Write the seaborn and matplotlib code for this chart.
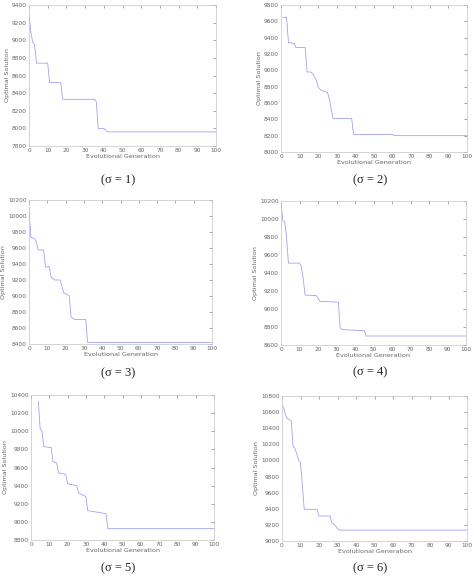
import matplotlib
matplotlib.use("Agg")
import matplotlib.pyplot as plt
import seaborn as sns
import numpy as np
import pandas as pd

sns.set_theme(style="white")
plt.rcParams['font.family'] = ['DejaVu Sans']

# data: (generation, optimal solution) vertices for each sigma
gen1 = [0, 1, 2, 3, 4, 10, 11, 17, 18, 35, 36, 37, 40, 42, 100]
val1 = [9290, 9090, 8980, 8950, 8740, 8740, 8520, 8520, 8330, 8330, 8300, 8000, 8000, 7960, 7960]

gen2 = [1, 3, 4, 7, 8, 13, 14, 16, 17, 19, 20, 22, 25, 26, 28, 38, 39, 60, 61, 100]
val2 = [9650, 9650, 9340, 9330, 9280, 9280, 8980, 8980, 8960, 8880, 8790, 8750, 8730, 8650, 8410, 8410, 8215, 8215, 8200, 8200]

gen3 = [0, 1, 3, 4, 5, 8, 9, 11, 12, 14, 17, 19, 20, 22, 23, 25, 31, 32, 100]
val3 = [10100, 9735, 9720, 9680, 9575, 9575, 9360, 9370, 9240, 9200, 9200, 9040, 9030, 9000, 8740, 8705, 8705, 8420, 8420]

gen4 = [0, 1, 2, 3, 4, 10, 11, 12, 13, 19, 20, 21, 31, 32, 33, 45, 46, 100]
val4 = [10175, 9980, 9970, 9800, 9510, 9510, 9470, 9340, 9155, 9150, 9120, 9085, 9075, 8790, 8770, 8760, 8700, 8700]

gen5 = [4, 5, 6, 7, 11, 12, 14, 15, 18, 19, 20, 25, 26, 30, 31, 41, 42, 100]
val5 = [10330, 10030, 10000, 9830, 9820, 9665, 9650, 9540, 9530, 9520, 9420, 9400, 9320, 9280, 9125, 9090, 8925, 8925]

gen6 = [0, 1, 2, 3, 5, 6, 7, 8, 9, 10, 11, 12, 19, 20, 26, 27, 28, 29, 30, 31, 100]
val6 = [10690, 10640, 10560, 10520, 10490, 10170, 10150, 10080, 10000, 9975, 9700, 9395, 9390, 9310, 9310, 9220, 9210, 9190, 9150, 9135, 9135]

ylims = [(7800, 9400), (8000, 9800), (8400, 10200), (8600, 10200), (8800, 10400), (9000, 10800)]
captions = ["(σ = 1)", "(σ = 2)", "(σ = 3)", "(σ = 4)", "(σ = 5)", "(σ = 6)"]
gens = [gen1, gen2, gen3, gen4, gen5, gen6]
vals = [val1, val2, val3, val4, val5, val6]

W, H = 474, 577
# axes boxes in pixels: left, right, top, bottom
boxes = [(29, 216, 5, 146), (281, 467, 5, 152),
         (29, 212, 200, 344), (281, 466, 201, 345),
         (31, 214, 395, 540), (282, 467, 396, 541)]
cap_pos = [(118, 180), (370, 180), (118, 373), (370, 372), (118, 568), (370, 568)]

fig = plt.figure(figsize=(W / 100, H / 100), dpi=100)
fig.patch.set_facecolor('white')

txt_col = '#666666'
for i in range(6):
    l, r, t, b = boxes[i]
    ax = fig.add_axes([l / W, 1 - b / H, (r - l) / W, (b - t) / H])
    df = pd.DataFrame({"gen": gens[i], "val": vals[i]})
    sns.lineplot(data=df, x="gen", y="val", ax=ax, color='#9a9af0', linewidth=0.55,
                 estimator=None, sort=False)
    ax.set_xlim(0, 100)
    ax.set_ylim(*ylims[i])
    ax.set_xticks(np.arange(0, 101, 10))
    ax.set_yticks(np.arange(ylims[i][0], ylims[i][1] + 1, 200))
    ax.tick_params(direction='in', length=2, width=0.4, labelsize=4.2,
                   colors=txt_col, top=True, right=True, pad=1.5)
    ax.set_xlabel("Evolutional Generation", fontsize=4.6, color=txt_col, labelpad=1)
    ax.set_ylabel("Optimal Solution", fontsize=4.6, color=txt_col, labelpad=1.5)
    for s in ax.spines.values():
        s.set_color('#c4c4c4')
        s.set_linewidth(0.5)
    cx, cy = cap_pos[i]
    fig.text(cx / W, 1 - cy / H, captions[i], ha='center', va='center',
             fontsize=9, family='Liberation Serif', color='#222222')

fig.savefig("out.png", dpi=100, facecolor='white')
